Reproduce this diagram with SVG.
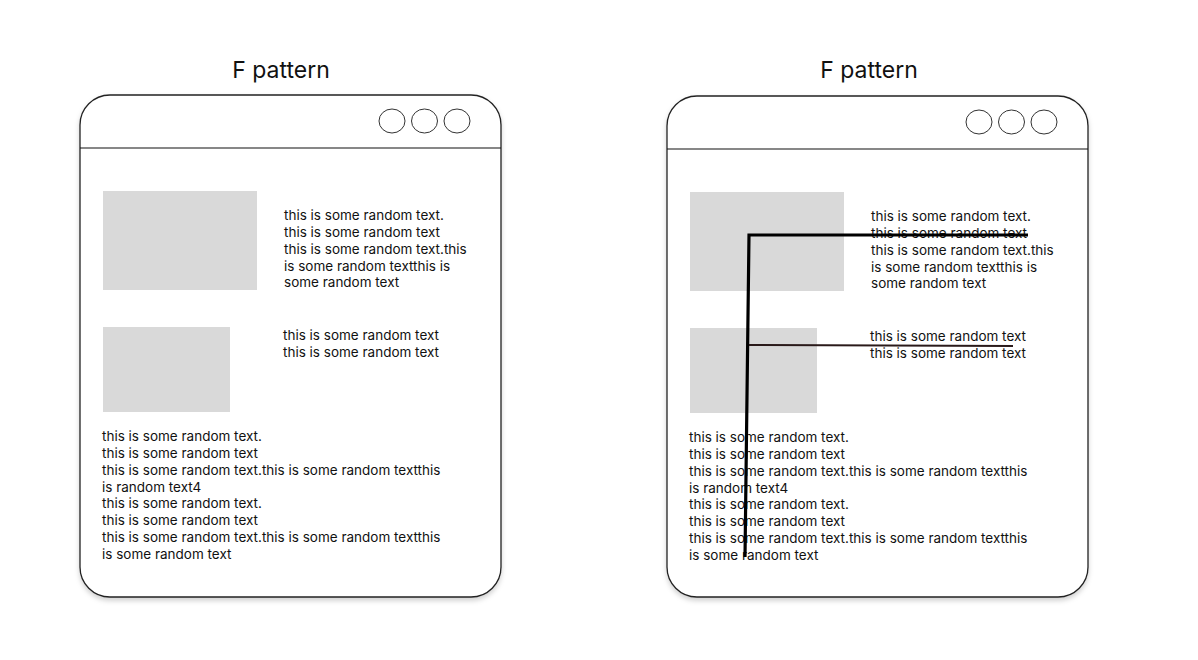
<svg xmlns="http://www.w3.org/2000/svg" width="1198" height="660" viewBox="0 0 1198 660">
<defs>
<filter id="sh" x="-5%" y="-5%" width="110%" height="110%">
<feDropShadow dx="0" dy="3" stdDeviation="2.5" flood-color="#000" flood-opacity="0.18"/>
</filter>
</defs>
<style>
.frame{fill:#fff;stroke:#222;stroke-width:1.3;filter:url(#sh)}
.hdr{stroke:#111;stroke-width:1.2}
.dot{fill:#fff;stroke:#333;stroke-width:1}
.img{fill:#d9d9d9}
.t{font-family:Inter,"Liberation Sans",sans-serif;font-size:13.5px;fill:#111}
.title{font-family:Inter,"Liberation Sans",sans-serif;font-size:23px;fill:#111;text-anchor:middle}
.f{fill:none;stroke:#000;stroke-width:3.2}
.f2{fill:none;stroke:#2a1a1a;stroke-width:2}
</style>
<rect width="1198" height="660" fill="#fff"/>
<g id="left">
<text class="title" x="281" y="78">F pattern</text>
<rect class="frame" x="80" y="95" width="421" height="502" rx="30"/>
<line class="hdr" x1="80" y1="148" x2="501" y2="148"/>
<ellipse class="dot" cx="392" cy="121" rx="13" ry="12"/>
<ellipse class="dot" cx="424.5" cy="121" rx="13" ry="12"/>
<ellipse class="dot" cx="457" cy="121" rx="13" ry="12"/>
<rect class="img" x="103" y="191" width="154" height="99"/>
<rect class="img" x="103" y="327" width="127" height="85"/>
<text class="t" x="284" y="220">this is some random text.</text>
<text class="t" x="284" y="237">this is some random text</text>
<text class="t" x="284" y="254">this is some random text.this</text>
<text class="t" x="284" y="271">is some random textthis is</text>
<text class="t" x="284" y="287">some random text</text>
<text class="t" x="283" y="340">this is some random text</text>
<text class="t" x="283" y="357">this is some random text</text>
<text class="t" x="102" y="441">this is some random text.</text>
<text class="t" x="102" y="458">this is some random text</text>
<text class="t" x="102" y="475">this is some random text.this is some random textthis</text>
<text class="t" x="102" y="492">is random text4</text>
<text class="t" x="102" y="508">this is some random text.</text>
<text class="t" x="102" y="525">this is some random text</text>
<text class="t" x="102" y="542">this is some random text.this is some random textthis</text>
<text class="t" x="102" y="559">is some random text</text>
</g>
<g id="right">
<text class="title" x="869" y="78">F pattern</text>
<rect class="frame" x="667" y="96" width="421" height="501" rx="30"/>
<line class="hdr" x1="667" y1="149" x2="1088" y2="149"/>
<ellipse class="dot" cx="979" cy="122" rx="13" ry="12"/>
<ellipse class="dot" cx="1011.5" cy="122" rx="13" ry="12"/>
<ellipse class="dot" cx="1044" cy="122" rx="13" ry="12"/>
<rect class="img" x="690" y="192" width="154" height="99"/>
<rect class="img" x="690" y="328" width="127" height="85"/>
<text class="t" x="871" y="221">this is some random text.</text>
<text class="t" x="871" y="238">this is some random text</text>
<text class="t" x="871" y="255">this is some random text.this</text>
<text class="t" x="871" y="272">is some random textthis is</text>
<text class="t" x="871" y="288">some random text</text>
<text class="t" x="870" y="341">this is some random text</text>
<text class="t" x="870" y="358">this is some random text</text>
<text class="t" x="689" y="442">this is some random text.</text>
<text class="t" x="689" y="459">this is some random text</text>
<text class="t" x="689" y="476">this is some random text.this is some random textthis</text>
<text class="t" x="689" y="493">is random text4</text>
<text class="t" x="689" y="509">this is some random text.</text>
<text class="t" x="689" y="526">this is some random text</text>
<text class="t" x="689" y="543">this is some random text.this is some random textthis</text>
<text class="t" x="689" y="560">is some random text</text>
</g>
<g id="connectors">
<polyline class="f" points="745,557 749,235 1028,235"/>
<line class="f2" x1="749" y1="345" x2="1013" y2="346"/>
</g>
</svg>
